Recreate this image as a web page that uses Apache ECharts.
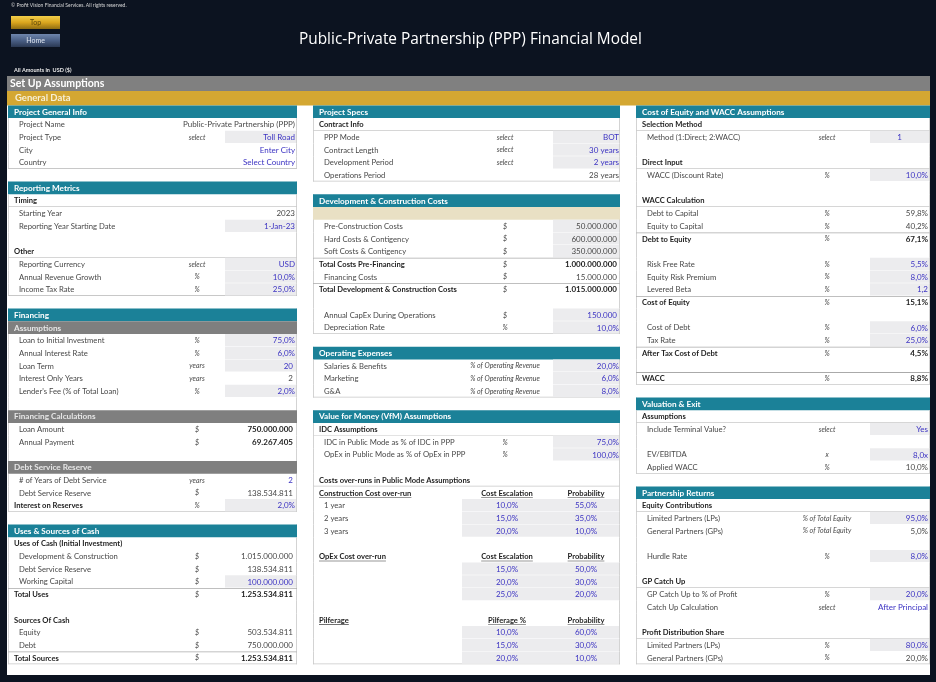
<!DOCTYPE html>
<html style="height: 100%">
<head>
    <meta charset="UTF-8">
    <title>Public-Private Partnership (PPP) Financial Model</title>
    <script src="https://cdn.jsdelivr.net/npm/echarts@6/dist/echarts.min.js"></script>
</head>
<body style="height: 100%; margin: 0; background: #0c1320">
    <div id="container" style="width: 936px; height: 682px;"></div>
    <script type="text/javascript">
        // left column, one entry per sheet row
        var labelsA = ['Project General Info', 'Project Name', 'Project Type', 'City', 'Country', '',
            'Reporting Metrics', 'Timing', 'Starting Year', 'Reporting Year Starting Date', '',
            'Other', 'Reporting Currency', 'Annual Revenue Growth', 'Income Tax Rate', '',
            'Financing', 'Assumptions', 'Loan to Initial Investment', 'Annual Interest Rate', 'Loan Term', 'Interest Only Years', "Lender's Fee (% of Total Loan)", '',
            'Financing Calculations', 'Loan Amount', 'Annual Payment', '',
            'Debt Service Reserve', '# of Years of Debt Service', 'Debt Service Reserve', 'Interest on Reserves', '',
            'Uses & Sources of Cash', 'Uses of Cash (Initial Investment)', 'Development & Construction', 'Debt Service Reserve', 'Working Capital', 'Total Uses', '',
            'Sources Of Cash', 'Equity', 'Debt', 'Total Sources'];
        var unitsA = ['', '', 'select', '', '', '',
            '', '', '', '', '',
            '', 'select', '%', '%', '',
            '', '', '%', '%', 'years', 'years', '%', '',
            '', '$', '$', '',
            '', 'years', '$', '%', '',
            '', '', '$', '$', '$', '$', '',
            '', '$', '$', '$'];
        var valuesA = ['', 'Public-Private Partnership (PPP)', 'Toll Road', 'Enter City', 'Select Country', '',
            '', '', '2023', '1-Jan-23', '',
            '', 'USD', '10,0%', '25,0%', '',
            '', '', '75,0%', '6,0%', '20', '2', '2,0%', '',
            '', '750.000.000', '69.267.405', '',
            '', '2', '138.534.811', '2,0%', '',
            '', '', '1.015.000.000', '138.534.811', '100.000.000', '1.253.534.811', '',
            '', '503.534.811', '750.000.000', '1.253.534.811'];
        var kindsA = ['head', 'line', 'line', 'line', 'line', 'gap',
            'head', 'sub', 'line', 'line', 'blank',
            'sub', 'line', 'line', 'line', 'gap',
            'head', 'bar', 'line', 'line', 'line', 'line', 'line', 'blank',
            'bar', 'amount', 'amount', 'blank',
            'bar', 'line', 'line', 'strong', 'gap',
            'head', 'sub0', 'line', 'line', 'line', 'total', 'blank',
            'sub0', 'line', 'line', 'total'];
        var inputRowsA = [2, 9, 12, 13, 14, 18, 19, 20, 22, 31, 37];
        var blueRowsA = [3, 4, 29];

        // middle column
        var labelsB = ['Project Specs', 'Contract Info', 'PPP Mode', 'Contract Length', 'Development Period', 'Operations Period', '',
            'Development & Construction Costs', '', 'Pre-Construction Costs', 'Hard Costs & Contigency', 'Soft Costs & Contigency', 'Total Costs Pre-Financing', 'Financing Costs', 'Total Development & Construction Costs', '',
            'Annual CapEx During Operations', 'Depreciation Rate', '',
            'Operating Expenses', 'Salaries & Benefits', 'Marketing', 'G&A', '',
            'Value for Money (VfM) Assumptions', 'IDC Assumptions', 'IDC in Public Mode as % of IDC in PPP', 'OpEx in Public Mode as % of OpEx in PPP', '',
            'Costs over-runs in Public Mode Assumptions', 'Construction Cost over-run', '1 year', '2 years', '3 years', '',
            'OpEx Cost over-run', '', '', '', '',
            'Pilferage', '', '', ''];
        var unitsB = ['', '', 'select', 'select', 'select', '', '',
            '', '', '$', '$', '$', '$', '$', '$', '',
            '$', '%', '',
            '', '% of Operating Revenue', '% of Operating Revenue', '% of Operating Revenue', '',
            '', '', '%', '%', '',
            '', 'Cost Escalation', '10,0%', '15,0%', '20,0%', '',
            'Cost Escalation', '15,0%', '20,0%', '25,0%', '',
            'Pilferage %', '10,0%', '15,0%', '20,0%'];
        var valuesB = ['', '', 'BOT', '30 years', '2 years', '28 years', '',
            '', '', '50.000.000', '600.000.000', '350.000.000', '1.000.000.000', '15.000.000', '1.015.000.000', '',
            '150.000', '10,0%', '',
            '', '20,0%', '6,0%', '8,0%', '',
            '', '', '75,0%', '100,0%', '',
            '', 'Probability', '55,0%', '35,0%', '10,0%', '',
            'Probability', '50,0%', '30,0%', '20,0%', '',
            'Probability', '60,0%', '30,0%', '10,0%'];
        var kindsB = ['head', 'sub', 'line', 'line', 'line', 'line', 'gap',
            'head', 'tan', 'line', 'line', 'line', 'total', 'line', 'total', 'blank',
            'line', 'line', 'gap',
            'head', 'line', 'line', 'line', 'gap',
            'head', 'sub', 'line', 'line', 'blank',
            'sub', 'pairHead', 'pair', 'pair', 'pair', 'blank',
            'pairHead', 'pair', 'pair', 'pair', 'blank',
            'pairHead', 'pair', 'pair', 'pair'];
        var inputRowsB = [2, 3, 4, 9, 10, 11, 16, 17, 20, 21, 22, 26, 27];
        var darkInputRowsB = [9, 10, 11];

        // right column
        var labelsC = ['Cost of Equity and WACC Assumptions', 'Selection Method', 'Method (1:Direct; 2:WACC)', '',
            'Direct Input', 'WACC (Discount Rate)', '',
            'WACC Calculation', 'Debt to Capital', 'Equity to Capital', 'Debt to Equity', '',
            'Risk Free Rate', 'Equity Risk Premium', 'Levered Beta', 'Cost of Equity', '',
            'Cost of Debt', 'Tax Rate', 'After Tax Cost of Debt', '', 'WACC', '',
            'Valuation & Exit', 'Assumptions', 'Include Terminal Value?', '', 'EV/EBITDA', 'Applied WACC', '',
            'Partnership Returns', 'Equity Contributions', 'Limited Partners (LPs)', 'General Partners (GPs)', '',
            'Hurdle Rate', '', 'GP Catch Up', 'GP Catch Up to % of Profit', 'Catch Up Calculation', '',
            'Profit Distribution Share', 'Limited Partners (LPs)', 'General Partners (GPs)'];
        var unitsC = ['', '', 'select', '',
            '', '%', '',
            '', '%', '%', '%', '',
            '%', '%', '%', '%', '',
            '%', '%', '%', '', '%', '',
            '', '', 'select', '', 'x', '%', '',
            '', '', '% of Total Equity', '% of Total Equity', '',
            '%', '', '', '%', 'select', '',
            '', '%', '%'];
        var valuesC = ['', '', '1', '',
            '', '10,0%', '',
            '', '59,8%', '40,2%', '67,1%', '',
            '5,5%', '8,0%', '1,2', '15,1%', '',
            '6,0%', '25,0%', '4,5%', '', '8,8%', '',
            '', '', 'Yes', '', '8,0x', '10,0%', '',
            '', '', '95,0%', '5,0%', '',
            '8,0%', '', '', '20,0%', 'After Principal', '',
            '', '80,0%', '20,0%'];
        var kindsC = ['head', 'sub', 'line', 'blank',
            'sub', 'line', 'blank',
            'sub', 'line', 'line', 'total', 'blank',
            'line', 'line', 'line', 'total', 'blank',
            'line', 'line', 'total', 'blank', 'total', 'gap',
            'head', 'sub', 'line', 'blank', 'line', 'line', 'gap',
            'head', 'sub', 'line', 'line', 'blank',
            'line', 'blank', 'sub', 'line', 'line', 'blank',
            'sub', 'line', 'line'];
        var inputRowsC = [2, 5, 12, 13, 14, 17, 18, 25, 27, 32, 35, 38, 42];
        var blueRowsC = [39];
        var centeredRowsC = [2];

        var FONT = 'Lato, sans-serif';
        var TEAL = '#1b8198', GREY = '#7f7f7f', TAN = '#e9e0c4', FILL = '#ececee',
            INK = '#484848', DARK = '#1e1e1e', BLUE = '#3b32c2', RULE = '#c8c8c8';
        var LABEL_FONT = '7.7px', BOLD_FONT = 'bold 7.6px', HEAD_FONT = 'bold 8.2px', VALUE_FONT = '8px', BOLD_VALUE_FONT = 'bold 8px', UNIT_FONT = 'italic 7px';

        var measure = document.createElement('canvas').getContext('2d');

        function makeRenderItem(col) {
            return function (params, api) {
                var row = api.value(1);
                var kind = col.kinds[row];
                var y = api.coord([0, row])[1];
                var h = api.size([0, 1])[1];
                var L = col.left, R = col.right;
                var kids = [];
                function px(v) { return api.coord([v, row])[0]; }
                function box(x0, x1, yy, hh, fill) {
                    kids.push({type: 'rect', shape: {x: px(x0), y: yy, width: px(x1) - px(x0), height: hh}, style: {fill: fill}});
                }
                function text(t, x, align, font, fill) {
                    if (!t) return;
                    kids.push({type: 'text', style: {text: t, x: px(x), y: y + 0.3, align: align, verticalAlign: 'middle',
                        textAlign: align, textVerticalAlign: 'middle', font: font + ' ' + FONT, fill: fill}});
                }
                function underlined(t, x, align) {
                    if (!t) return;
                    text(t, x, align, BOLD_FONT, DARK);
                    measure.font = BOLD_FONT + ' ' + FONT;
                    var w = measure.measureText(t).width;
                    var x0 = align === 'center' ? x - w / 2 : x;
                    box(x0, x0 + w, y + 4.4, 0.7, '#333333');
                }

                if (kind === 'gap') {
                    return {type: 'group', children: kids};
                }
                // panel side rules and the closing rule
                var last = row === col.kinds.length - 1 || col.kinds[row + 1] === 'gap';
                box(L, L + 0.8, y - h / 2, h, RULE);
                box(R - 0.8, R, y - h / 2, h, RULE);
                if (last) box(L, R, y + h / 2 - 0.8, 0.8, RULE);

                if (kind === 'head' || kind === 'bar') {
                    box(L, R, y - h / 2, h, kind === 'head' ? TEAL : GREY);
                    text(col.labels[row], L + 6, 'left', HEAD_FONT, kind === 'head' ? '#ffffff' : '#e6e6e6');
                    return {type: 'group', children: kids};
                }
                if (kind === 'tan') {
                    box(L, R, y - h / 2, h, TAN);
                    return {type: 'group', children: kids};
                }
                if (kind === 'blank') {
                    return {type: 'group', children: kids};
                }
                if (kind === 'sub' || kind === 'sub0') {
                    text(col.labels[row], L + 6, 'left', BOLD_FONT, DARK);
                    if (kind === 'sub') box(L, R, y + h / 2 - 0.7, 0.7, RULE);
                    return {type: 'group', children: kids};
                }
                if (kind === 'pairHead') {
                    underlined(col.labels[row], L + 6, 'left');
                    underlined(col.units[row], col.pairX, 'center');
                    underlined(col.values[row], col.pairY, 'center');
                    return {type: 'group', children: kids};
                }
                if (kind === 'pair') {
                    box(col.pairStart, col.fillStart, y - h / 2, h - 0.5, FILL);
                    box(col.fillStart, col.fillEnd, y - h / 2, h - 0.5, FILL);
                    text(col.labels[row], L + 11, 'left', LABEL_FONT, INK);
                    text(col.units[row], col.pairX, 'center', VALUE_FONT, BLUE);
                    text(col.values[row], col.pairY, 'center', VALUE_FONT, BLUE);
                    return {type: 'group', children: kids};
                }

                // ordinary rows: label, unit, value
                var input = col.inputs.indexOf(row) >= 0;
                if (input) box(col.fillStart, col.fillEnd, y - h / 2, h - 0.5, FILL);
                if (kind === 'total') box(L, R, y - h / 2, 0.8, '#aaaaaa');
                var boldLabel = kind === 'total' || kind === 'strong';
                var boldValue = kind === 'total' || kind === 'amount';
                text(col.labels[row], boldLabel ? L + 6 : L + 11, 'left', boldLabel ? BOLD_FONT : LABEL_FONT, boldLabel ? DARK : INK);
                text(col.units[row], col.unitX, 'center', UNIT_FONT, INK);
                var value = col.values[row];
                var blue = (input && (col.darkInputs || []).indexOf(row) < 0) || (col.blue || []).indexOf(row) >= 0;
                var fill = blue ? BLUE : (boldValue ? DARK : INK);
                var font = boldValue ? BOLD_VALUE_FONT : VALUE_FONT;
                if ((col.centered || []).indexOf(row) >= 0) {
                    text(value, (col.fillStart + col.fillEnd) / 2, 'center', font, fill);
                } else {
                    // plain numbers sit a little in from the cell edge
                    var inset = /^(\d{1,2}|[\d.]+\.\d{3})$/.test(value) ? 3 : 1;
                    text(value, R - col.pad - inset, 'right', font, fill);
                }
                return {type: 'group', children: kids};
            };
        }

        var columns = [
            {left: 8, right: 297, pad: 1, unitX: 197, fillStart: 225, fillEnd: 296, labels: labelsA, units: unitsA, values: valuesA, kinds: kindsA, inputs: inputRowsA, blue: blueRowsA},
            {left: 313, right: 620, pad: 0, unitX: 505, fillStart: 553, fillEnd: 619, pairStart: 462, pairX: 507, pairY: 586, labels: labelsB, units: unitsB, values: valuesB, kinds: kindsB, inputs: inputRowsB, darkInputs: darkInputRowsB},
            {left: 636, right: 930, pad: 1, unitX: 827, fillStart: 870, fillEnd: 929, labels: labelsC, units: unitsC, values: valuesC, kinds: kindsC, inputs: inputRowsC, blue: blueRowsC, centered: centeredRowsC}
        ];

        var TOP = 105.4, PANEL_H = 558.8;

        var option = {
            animation: false,
            backgroundColor: '#0c1320',
            title: {
                text: 'Public-Private Partnership (PPP) Financial Model',
                left: 294, top: 27,
                textStyle: {color: '#ffffff', fontFamily: '"Open Sans", sans-serif', fontSize: 15.4, fontWeight: 'normal'}
            },
            graphic: [
                {type: 'rect', z: 0, silent: true, shape: {x: 7, y: 76, width: 923, height: 599}, style: {fill: '#ffffff'}},
                {type: 'rect', z: 0, silent: true, shape: {x: 7, y: 76, width: 923, height: 15}, style: {fill: '#808080'}},
                {type: 'rect', z: 0, silent: true, shape: {x: 7, y: 91, width: 923, height: 14.4}, style: {fill: '#d4a732'}},
                {type: 'text', z: 1, silent: true, style: {text: 'Set Up Assumptions', x: 10, y: 83.5, verticalAlign: 'middle', font: 'bold 10.5px ' + FONT, fill: '#ffffff'}},
                {type: 'text', z: 1, silent: true, style: {text: 'General Data', x: 15, y: 98, verticalAlign: 'middle', font: 'bold 9.5px ' + FONT, fill: '#f7efd6'}},
                {type: 'text', z: 1, silent: true, style: {text: '\u00a9 Profit Vision Financial Services. All rights reserved.', x: 11, y: 5, verticalAlign: 'middle', font: '5px ' + FONT, fill: '#d8d8d8'}},
                {type: 'text', z: 1, silent: true, style: {text: 'All Amounts in  USD ($)', x: 14, y: 70, verticalAlign: 'middle', font: 'bold 5.5px ' + FONT, fill: '#e8e8e8'}},
                {type: 'rect', z: 1, silent: true, shape: {x: 11, y: 16, width: 49, height: 13}, style: {fill: new echarts.graphic.LinearGradient(0, 0, 0, 1, [{offset: 0, color: '#f3cf4a'}, {offset: 0.5, color: '#d9a51e'}, {offset: 1, color: '#8f6d12'}])}},
                {type: 'rect', z: 1, silent: true, shape: {x: 11, y: 34, width: 49, height: 13}, style: {fill: new echarts.graphic.LinearGradient(0, 0, 0, 1, [{offset: 0, color: '#6f86ad'}, {offset: 0.5, color: '#4a5f85'}, {offset: 1, color: '#2b3954'}])}},
                {type: 'text', z: 2, silent: true, style: {text: 'Top', x: 35.5, y: 22.8, align: 'center', verticalAlign: 'middle', font: '7px ' + FONT, fill: '#5b4708'}},
                {type: 'text', z: 2, silent: true, style: {text: 'Home', x: 35.5, y: 40.8, align: 'center', verticalAlign: 'middle', font: '7px ' + FONT, fill: '#dfe5ef'}}
            ],
            grid: [],
            xAxis: [],
            yAxis: [],
            series: []
        };

        columns.forEach(function (col, i) {
            option.grid.push({left: col.left, width: col.right - col.left, top: TOP, height: PANEL_H});
            option.xAxis.push({type: 'value', gridIndex: i, min: col.left, max: col.right, show: false});
            option.yAxis.push({type: 'category', gridIndex: i, inverse: true, show: false, data: col.labels.map(function (l, r) { return r + ''; })});
            option.series.push({
                type: 'custom',
                coordinateSystem: 'cartesian2d',
                xAxisIndex: i,
                yAxisIndex: i,
                silent: true,
                clip: false,
                renderItem: makeRenderItem(col),
                data: col.labels.map(function (l, r) { return [col.left, r]; })
            });
        });

        var myChart = echarts.init(document.getElementById('container'));
        myChart.setOption(option, true);
    </script>
</body>
</html>
